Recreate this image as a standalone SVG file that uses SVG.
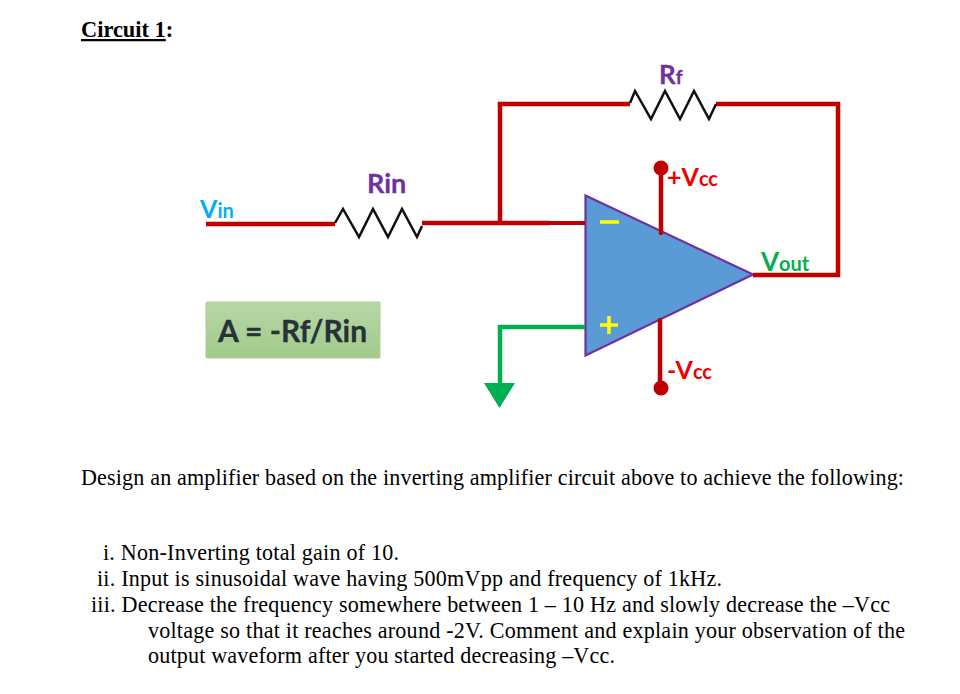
<svg xmlns="http://www.w3.org/2000/svg" width="960" height="694" viewBox="0 0 960 694">
<style>
.body{font-family:"Liberation Serif",serif;font-size:22.1px;fill:#000}
.lab{font-family:Lato,"Noto Sans",sans-serif;font-weight:700}
.wire{fill:none;stroke:#c00000;stroke-width:4.5}
.res{fill:none;stroke:#111;stroke-width:2.5}
.sup{fill:none;stroke:#c00000;stroke-width:4.5;stroke-linecap:round}
</style>
<defs><linearGradient id="boxfill" x1="0" y1="0" x2="0" y2="1"><stop offset="0" stop-color="#b7d7a8"/><stop offset="1" stop-color="#a2ca8a"/></linearGradient></defs>
<rect width="960" height="694" fill="#fff"/>
<g id="opamp"><path d="M585.500 195.500L753 274.500L585.500 355.500Z" fill="#5b9bd5" stroke="#7030a0" stroke-width="2.200"/><path d="M600 222H619M609 316V334M600 325H618" fill="none" stroke="#ffff00" stroke-width="3.600"/></g>
<g id="connectors">
<path class="wire" d="M206 224H335M422 223H550"/>
<path class="wire" style="stroke-width:4" d="M550 223H585"/>
<path class="wire" d="M630 104H500V223"/>
<path class="wire" d="M716 104H838V275H753"/>
<path class="sup" d="M661 168V233M660 320V388"/>
<path fill="none" stroke="#00b050" stroke-width="4.500" d="M585 327H500V384"/>
</g>
<g id="rin"><path class="res" d="M335 223L343 209L359 237L373 209L388 237L402 209L417 237L422 226"/><text class="lab" x="367" y="193" font-size="27" fill="#7030a0" stroke="#7030a0" stroke-width="0.300">Rin</text></g>
<g id="rf"><path class="res" d="M630 103L635 91L651 119L665 91L680 119L694 91L709 119L716 104"/><text class="lab" x="659" y="84" font-size="26" fill="#7030a0" stroke="#7030a0" stroke-width="0.300">R<tspan font-size="19">f</tspan></text></g>
<g id="vin"><text class="lab" x="200" y="218" font-size="25" fill="#00b0f0">V<tspan font-size="20">in</tspan></text></g>
<g id="formula"><rect x="206" y="302" width="174" height="56" rx="1" fill="url(#boxfill)" stroke="#a9cf95"/><text class="lab" x="292.500" y="342" font-size="30" text-anchor="middle" fill="#263238" stroke="#263238" stroke-width="0.300">A = -Rf/Rin</text></g>
<g id="vcc-plus"><circle cx="661" cy="168" r="7.500" fill="#c00000"/><text class="lab" x="667" y="186" font-size="25" fill="#f00000">+V<tspan font-size="20">cc</tspan></text></g>
<g id="vcc-minus"><circle cx="661" cy="388" r="7.500" fill="#c00000"/><text class="lab" x="667" y="379" font-size="25" fill="#f00000">-V<tspan font-size="20">cc</tspan></text></g>
<g id="vout"><text class="lab" x="761" y="271" font-size="26" fill="#00b050">V<tspan font-size="20">out</tspan></text></g>
<g id="ground"><path d="M484 383H515L499.500 408Z" fill="#00b050"/></g>
<g id="text">
<text x="81" y="37" style="font-family:'Liberation Serif',serif;font-weight:700;font-size:22.400px"><tspan text-decoration="underline">Circuit 1</tspan>:</text>
<text class="body" x="81" y="485" textLength="823">Design an amplifier based on the inverting amplifier circuit above to achieve the following:</text>
<text class="body" x="103" y="560" textLength="296">i. Non-Inverting total gain of 10.</text>
<text class="body" x="97" y="586" textLength="625">ii. Input is sinusoidal wave having 500mVpp and frequency of 1kHz.</text>
<text class="body" x="91" y="612" textLength="799">iii. Decrease the frequency somewhere between 1 – 10 Hz and slowly decrease the –Vcc</text>
<text class="body" x="148" y="638" textLength="757">voltage so that it reaches around -2V. Comment and explain your observation of the</text>
<text class="body" x="148" y="663" textLength="467">output waveform after you started decreasing –Vcc.</text>
</g>
</svg>
